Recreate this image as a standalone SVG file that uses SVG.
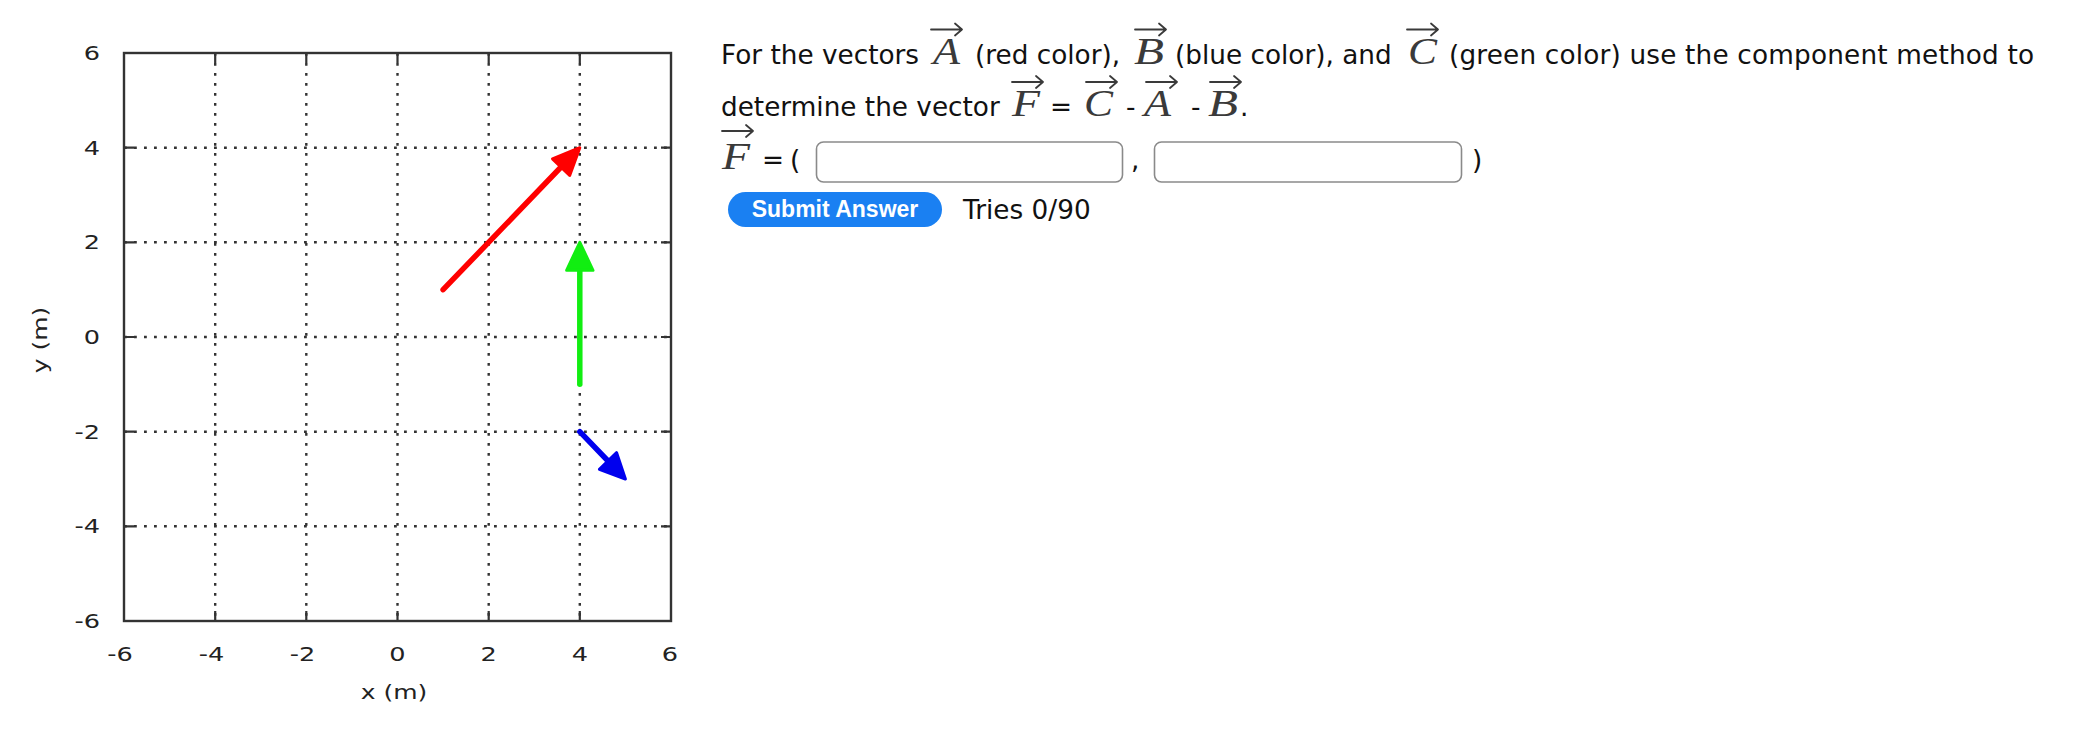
<svg xmlns="http://www.w3.org/2000/svg" xmlns:xlink="http://www.w3.org/1999/xlink" width="2090" height="752" viewBox="0 0 2090 752">
<style>
.grid{stroke:#333;stroke-width:2.4;stroke-dasharray:2.8 7.2;fill:none}
.tick{stroke:#333;stroke-width:2.2;fill:none}
.border{stroke:#333;stroke-width:2.4;fill:none}
.lab{font-family:"DejaVu Sans","Liberation Sans",sans-serif;font-size:20px;fill:#222}
.body{font-family:"DejaVu Sans","Liberation Sans",sans-serif;font-size:26.3px;fill:#111}
.math{font-family:"Liberation Serif","Times New Roman",serif;font-style:italic;font-size:37px;fill:#3a3a3a}
.vec{stroke:#3a3a3a;stroke-width:1.8;fill:none;stroke-linecap:round;stroke-linejoin:round}
.box{fill:#fff;stroke:#8a8a8a;stroke-width:1.6}
.btn{font-family:"Liberation Sans",Arial,sans-serif;font-weight:bold;font-size:23px;fill:#fff}
</style>
<defs>
<path id="ov" class="vec" d="M0,0 H31 M24,-6 L31,0 L24,6"/>
</defs>
<rect width="2090" height="752" fill="#fff"/>

<g id="plot">
  <g id="grid">
    <line class="grid" x1="124" y1="147.7" x2="671" y2="147.7"/>
    <line class="grid" x1="124" y1="242.3" x2="671" y2="242.3"/>
    <line class="grid" x1="124" y1="337" x2="671" y2="337"/>
    <line class="grid" x1="124" y1="431.7" x2="671" y2="431.7"/>
    <line class="grid" x1="124" y1="526.3" x2="671" y2="526.3"/>
    <line class="grid" x1="215.2" y1="53" x2="215.2" y2="621"/>
    <line class="grid" x1="306.3" y1="53" x2="306.3" y2="621"/>
    <line class="grid" x1="397.5" y1="53" x2="397.5" y2="621"/>
    <line class="grid" x1="488.7" y1="53" x2="488.7" y2="621"/>
    <line class="grid" x1="579.8" y1="53" x2="579.8" y2="621"/>
  </g>
  <g id="ticks">
    <path class="tick" d="M124,147.7h10M124,242.3h10M124,337h10M124,431.7h10M124,526.3h10
      M671,147.7h-10M671,242.3h-10M671,337h-10M671,431.7h-10M671,526.3h-10
      M215.2,621v-10M306.3,621v-10M397.5,621v-10M488.7,621v-10M579.8,621v-10
      M215.2,53v10M306.3,53v10M397.5,53v10M488.7,53v10M579.8,53v10"/>
  </g>
  <rect id="frame" class="border" x="124" y="53" width="547" height="568"/>
  <g id="ylabels" class="lab" text-anchor="end">
    <text transform="translate(100,60) scale(1.28,1)">6</text>
    <text transform="translate(100,154.7) scale(1.28,1)">4</text>
    <text transform="translate(100,249.3) scale(1.28,1)">2</text>
    <text transform="translate(100,344) scale(1.28,1)">0</text>
    <text transform="translate(100,438.7) scale(1.28,1)">-2</text>
    <text transform="translate(100,533.3) scale(1.28,1)">-4</text>
    <text transform="translate(100,628) scale(1.28,1)">-6</text>
  </g>
  <g id="xlabels" class="lab" text-anchor="middle">
    <text transform="translate(120,660.5) scale(1.28,1)">-6</text>
    <text transform="translate(211.5,660.5) scale(1.28,1)">-4</text>
    <text transform="translate(302.5,660.5) scale(1.28,1)">-2</text>
    <text transform="translate(397.5,660.5) scale(1.28,1)">0</text>
    <text transform="translate(488.7,660.5) scale(1.28,1)">2</text>
    <text transform="translate(579.8,660.5) scale(1.28,1)">4</text>
    <text transform="translate(670,660.5) scale(1.28,1)">6</text>
  </g>
  <text id="xtitle" class="lab" text-anchor="middle" transform="translate(394,699) scale(1.25,1)">x (m)</text>
  <text id="ytitle" class="lab" text-anchor="middle" transform="translate(47,340) rotate(-90) scale(1.25,1)">y (m)</text>
</g>

<g id="vectors" stroke-linecap="round" stroke-linejoin="round">
  <g id="vecA">
    <line x1="443.1" y1="289.7" x2="563" y2="165" stroke="#ff0000" stroke-width="5.5"/>
    <polygon points="579.8,147.7 569.7,175.4 552.5,158.8" fill="#ff0000" stroke="#ff0000" stroke-width="3"/>
  </g>
  <g id="vecC">
    <line x1="579.8" y1="384.3" x2="579.8" y2="268" stroke="#11ee11" stroke-width="5.5"/>
    <polygon points="579.8,242.3 593,270.3 566.6,270.3" fill="#11ee11" stroke="#11ee11" stroke-width="3"/>
  </g>
  <g id="vecB">
    <line x1="579.8" y1="431.7" x2="609" y2="462" stroke="#0000ee" stroke-width="5.5"/>
    <polygon points="625.4,479 599.4,469.3 616.6,452.7" fill="#0000ee" stroke="#0000ee" stroke-width="3"/>
  </g>
</g>

<g id="question">
  <g id="line1">
    <text class="body" x="721" y="63.5">For the vectors</text>
    <text class="math" x="933" y="63.5" textLength="27" lengthAdjust="spacingAndGlyphs">A</text>
    <use href="#ov" xlink:href="#ov" x="931" y="29.5"/>
    <text class="body" x="975" y="63.5">(red color),</text>
    <text class="math" x="1134" y="63.5" textLength="30" lengthAdjust="spacingAndGlyphs">B</text>
    <use href="#ov" xlink:href="#ov" x="1135" y="29.5"/>
    <text class="body" x="1175" y="63.5">(blue color), and</text>
    <text class="math" x="1408" y="63.5" textLength="29" lengthAdjust="spacingAndGlyphs">C</text>
    <use href="#ov" xlink:href="#ov" x="1407" y="29.5"/>
    <text class="body" x="1449" y="63.5" textLength="585" lengthAdjust="spacing">(green color) use the component method to</text>
  </g>
  <g id="line2">
    <text class="body" x="721" y="116">determine the vector</text>
    <text class="math" x="1012" y="116" textLength="28" lengthAdjust="spacingAndGlyphs">F</text>
    <use href="#ov" xlink:href="#ov" x="1012" y="82"/>
    <text class="body" x="1050" y="116">=</text>
    <text class="math" x="1084" y="116" textLength="29" lengthAdjust="spacingAndGlyphs">C</text>
    <use href="#ov" xlink:href="#ov" x="1086" y="82"/>
    <text class="body" x="1126" y="116">-</text>
    <text class="math" x="1144" y="116" textLength="27" lengthAdjust="spacingAndGlyphs">A</text>
    <use href="#ov" xlink:href="#ov" x="1146" y="82"/>
    <text class="body" x="1191" y="116">-</text>
    <text class="math" x="1208" y="116" textLength="30" lengthAdjust="spacingAndGlyphs">B</text>
    <use href="#ov" xlink:href="#ov" x="1210" y="82"/>
    <text class="body" x="1240" y="116">.</text>
  </g>
  <g id="line3">
    <text class="math" x="722" y="168.5" textLength="28" lengthAdjust="spacingAndGlyphs">F</text>
    <use href="#ov" xlink:href="#ov" x="722" y="131"/>
    <text class="body" x="762" y="168.5">=</text>
    <text class="body" x="790" y="168.5">(</text>
    <rect id="input1" class="box" x="816.5" y="142" width="306" height="40" rx="7"/>
    <text class="body" x="1131" y="168.5">,</text>
    <rect id="input2" class="box" x="1154.5" y="142" width="307" height="40" rx="7"/>
    <text class="body" x="1472" y="168.5">)</text>
  </g>
  <g id="submit">
    <rect x="728" y="192" width="214" height="35" rx="17.5" fill="#1a80f2"/>
    <text class="btn" x="835" y="216.5" text-anchor="middle">Submit Answer</text>
  </g>
  <text id="tries" class="body" x="963" y="219">Tries 0/90</text>
</g>
</svg>
